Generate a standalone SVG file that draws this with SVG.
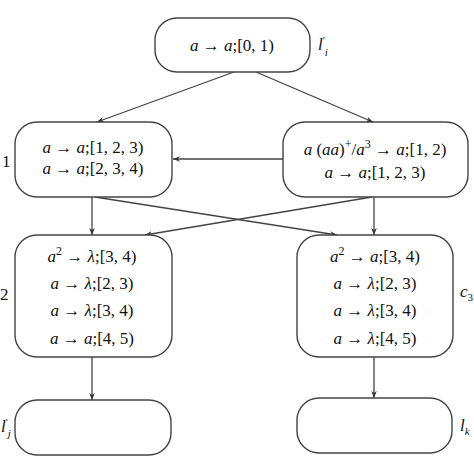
<svg xmlns="http://www.w3.org/2000/svg" width="474" height="474" viewBox="0 0 474 474">
<defs>
<marker id="ah" viewBox="0 0 10 10" refX="10" refY="5" markerWidth="7" markerHeight="7" orient="auto" markerUnits="userSpaceOnUse">
<path d="M0,1 L10,5 L0,9 L3,5 Z" fill="#333"/>
</marker>
<style>
.box{fill:#fff;stroke:#444;stroke-width:1.4}
.t{font-family:"Liberation Serif","Times New Roman",serif;font-size:17px;fill:#111;text-anchor:middle}
.lb{font-family:"Liberation Serif","Times New Roman",serif;font-size:17px;fill:#111}
.i{font-style:italic}
.c{stroke:#444;stroke-width:1.3;fill:none;marker-end:url(#ah)}
</style>
</defs>
<rect width="474" height="474" fill="#fff"/>
<g id="connectors">
<line class="c" x1="234" y1="72" x2="97" y2="122"/>
<line class="c" x1="256" y1="72" x2="373" y2="122"/>
<line class="c" x1="283" y1="159" x2="173" y2="159"/>
<line class="c" x1="92" y1="197" x2="92" y2="235"/>
<line class="c" x1="374" y1="197" x2="374" y2="235"/>
<line class="c" x1="95" y1="197" x2="337" y2="235"/>
<line class="c" x1="372" y1="197" x2="145" y2="235"/>
<line class="c" x1="92" y1="357" x2="92" y2="400"/>
<line class="c" x1="374" y1="357" x2="374" y2="398"/>
</g>
<g id="node-top">
<rect class="box" x="155" y="18" width="155" height="54" rx="22"/>
<text class="t" x="232" y="51"><tspan class="i">a</tspan> → <tspan class="i">a</tspan>;[0, 1)</text>
<text class="lb" x="318" y="50"><tspan class="i">l</tspan><tspan font-size="11" dy="-6">'</tspan><tspan class="i" font-size="11" dy="12">i</tspan></text>
</g>
<g id="node-l1-left">
<rect class="box" x="15" y="122" width="157" height="75" rx="22"/>
<text class="t" x="93" y="153"><tspan class="i">a</tspan> → <tspan class="i">a</tspan>;[1, 2, 3)</text>
<text class="t" x="93" y="174"><tspan class="i">a</tspan> → <tspan class="i">a</tspan>;[2, 3, 4)</text>
<text class="lb" x="2" y="167" font-size="13">1</text>
</g>
<g id="node-l1-right">
<rect class="box" x="283" y="122" width="185" height="75" rx="22"/>
<text class="t" x="375" y="155"><tspan class="i">a</tspan> (<tspan class="i">aa</tspan>)<tspan font-size="12" dy="-7">+</tspan><tspan dy="7">/</tspan><tspan class="i">a</tspan><tspan font-size="12" dy="-7">3</tspan><tspan dy="7"> → </tspan><tspan class="i">a</tspan>;[1, 2)</text>
<text class="t" x="375" y="178"><tspan class="i">a</tspan> → <tspan class="i">a</tspan>;[1, 2, 3)</text>
</g>
<g id="node-l2-left">
<rect class="box" x="15" y="235" width="157" height="122" rx="22"/>
<text class="t" x="92" y="262"><tspan class="i">a</tspan><tspan font-size="12" dy="-7">2</tspan><tspan dy="7"> → </tspan><tspan class="i">λ</tspan>;[3, 4)</text>
<text class="t" x="92" y="289"><tspan class="i">a</tspan> → <tspan class="i">λ</tspan>;[2, 3)</text>
<text class="t" x="92" y="316"><tspan class="i">a</tspan> → <tspan class="i">λ</tspan>;[3, 4)</text>
<text class="t" x="92" y="344"><tspan class="i">a</tspan> → <tspan class="i">a</tspan>;[4, 5)</text>
<text class="lb" x="0" y="300" font-size="13">2</text>
</g>
<g id="node-l2-right">
<rect class="box" x="297" y="235" width="156" height="122" rx="22"/>
<text class="t" x="375" y="262"><tspan class="i">a</tspan><tspan font-size="12" dy="-7">2</tspan><tspan dy="7"> → </tspan><tspan class="i">a</tspan>;[3, 4)</text>
<text class="t" x="375" y="289"><tspan class="i">a</tspan> → <tspan class="i">λ</tspan>;[2, 3)</text>
<text class="t" x="375" y="316"><tspan class="i">a</tspan> → <tspan class="i">λ</tspan>;[3, 4)</text>
<text class="t" x="375" y="344"><tspan class="i">a</tspan> → <tspan class="i">λ</tspan>;[4, 5)</text>
<text class="lb" x="460" y="297"><tspan class="i">c</tspan><tspan font-size="11" dy="4">3</tspan></text>
</g>
<g id="node-bottom-left">
<rect class="box" x="15" y="400" width="156" height="55" rx="22"/>
<text class="lb" x="1" y="432"><tspan class="i">l</tspan><tspan font-size="11" dy="-6">'</tspan><tspan class="i" font-size="11" dy="11">j</tspan></text>
</g>
<g id="node-bottom-right">
<rect class="box" x="297" y="398" width="155" height="55" rx="22"/>
<text class="lb" x="460" y="431"><tspan class="i">l</tspan><tspan class="i" font-size="11" dy="4">k</tspan></text>
</g>
</svg>
